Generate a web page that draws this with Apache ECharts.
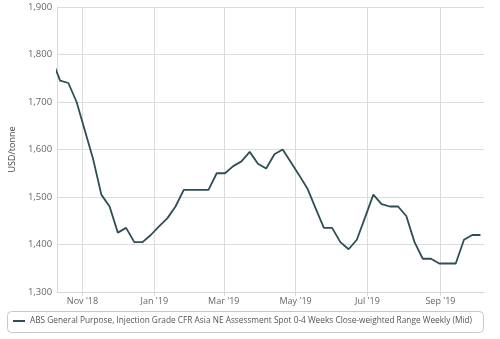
<!DOCTYPE html>
<html>
<head>
<meta charset="utf-8">
<script src="https://cdn.jsdelivr.net/npm/echarts@6/dist/echarts.min.js"></script>
<style>
html,body{margin:0;padding:0;background:#fff;}
#c{width:500px;height:339px;}
</style>
</head>
<body>
<div id="c"></div>
<script>
var dates = ['2018-10-06','2018-10-13','2018-10-20','2018-10-27','2018-11-03','2018-11-10','2018-11-17','2018-11-24',
'2018-12-01','2018-12-08','2018-12-15','2018-12-22','2018-12-29','2019-01-05','2019-01-12','2019-01-19','2019-01-26',
'2019-02-02','2019-02-09','2019-02-16','2019-02-23','2019-03-02','2019-03-09','2019-03-16','2019-03-23','2019-03-30',
'2019-04-06','2019-04-13','2019-04-20','2019-04-27','2019-05-04','2019-05-11','2019-05-18','2019-05-25',
'2019-06-01','2019-06-08','2019-06-15','2019-06-22','2019-06-29','2019-07-06','2019-07-13','2019-07-20','2019-07-27',
'2019-08-03','2019-08-10','2019-08-17','2019-08-24','2019-08-31','2019-09-07','2019-09-14','2019-09-21','2019-09-28','2019-10-05'];
var prices = [1790,1745,1740,1700,1640,1580,1505,1480,
1425,1435,1405,1405,1420,1438,1455,1480,1515,
1515,1515,1515,1550,1550,1565,1575,1595,1570,
1560,1590,1600,1573,1546,1518,1476,1435,
1435,1405,1390,1410,1457,1505,1485,1480,1480,
1460,1405,1370,1370,1360,1360,1360,1410,1420,1420];
var tickMonths = ['2018-11-01','2019-01-01','2019-03-01','2019-05-01','2019-07-01','2019-09-01'];
var monthNames = ['Jan','Feb','Mar','Apr','May','Jun','Jul','Aug','Sep','Oct','Nov','Dec'];
var seriesName = 'ABS General Purpose, Injection Grade CFR Asia NE Assessment Spot 0-4 Weeks Close-weighted Range Weekly (Mid)';
var yMin = 1300, yMax = 1900, yStep = 100;

function ts(s){var p=s.split('-');return Date.UTC(+p[0],+p[1]-1,+p[2]);}
var tickTs = tickMonths.map(ts);
var seriesData = dates.map(function(d,i){return [ts(d), prices[i]];});

var chart = echarts.init(document.getElementById('c'), null, {renderer:'canvas'});
var font = 'Open Sans';
chart.setOption({
  animation:false,
  backgroundColor:'#fff',
  grid:{left:53,right:16,top:7,bottom:47,containLabel:false},
  xAxis:{
    type:'value',
    min:Date.UTC(2018,9,10,10),
    max:Date.UTC(2019,9,8),
    axisLine:{show:true,lineStyle:{color:'#d6d6d6',width:1}},
    axisTick:{show:true,customValues:tickTs,length:4,lineStyle:{color:'#d6d6d6'}},
    splitLine:{show:true,lineStyle:{color:'#dcdcdc',width:1}},
    axisLabel:{
      customValues:tickTs,
      color:'#666',fontFamily:font,fontSize:9,margin:5,
      formatter:function(v){var d=new Date(v);return monthNames[d.getUTCMonth()]+" '"+String(d.getUTCFullYear()).slice(2);}
    }
  },
  yAxis:{
    type:'value',min:yMin,max:yMax,interval:yStep,
    name:'USD/tonne',nameLocation:'middle',nameGap:38,
    nameTextStyle:{color:'#444',fontFamily:font,fontSize:9},
    axisLine:{show:true,lineStyle:{color:'#dcdcdc'}},
    axisTick:{show:false},
    splitLine:{show:true,lineStyle:{color:'#dcdcdc',width:1}},
    axisLabel:{color:'#666',fontFamily:font,fontSize:9.5,margin:5,
      formatter:function(v){return v.toLocaleString('en-US');}}
  },
  graphic:[{type:'rect',shape:{x:7.5,y:311.5,width:476,height:21,r:4},
    style:{fill:'none',stroke:'#c8c8c8',lineWidth:1},silent:true}],
  legend:{
    left:13,top:317,itemWidth:12,itemHeight:2,icon:'rect',padding:0,
    textStyle:{color:'#555',fontFamily:font,fontSize:8.3},
    data:[seriesName]
  },
  series:[{
    name:seriesName,type:'line',data:seriesData,
    showSymbol:false,symbol:'none',clip:true,
    lineStyle:{color:'#2f4e55',width:1.8},
    itemStyle:{color:'#2f4e55'}
  }]
});
</script>
</body>
</html>
